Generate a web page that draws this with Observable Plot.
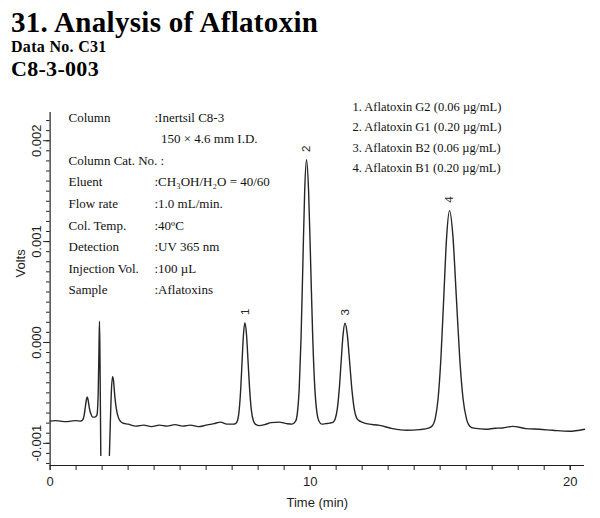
<!DOCTYPE html>
<html><head><meta charset="utf-8">
<script src="https://cdn.jsdelivr.net/npm/d3@7"></script>
<script src="https://cdn.jsdelivr.net/npm/@observablehq/plot@0.6"></script>
<style>
html,body{margin:0;padding:0;background:#fff;}
#page{position:relative;width:600px;height:518px;overflow:hidden;background:#fff;}
#head{position:relative;height:80px;font-family:"Liberation Serif","Times New Roman",serif;font-weight:bold;color:#000;}
#head div{position:absolute;left:11px;line-height:0.9;white-space:nowrap;}
#chart svg{display:block;}
</style></head>
<body><div id="page">
<div id="head">
<div id="t1" style="top:9.16px;font-size:29px;letter-spacing:0.3px"></div>
<div id="t2" style="top:40.3px;font-size:16px;letter-spacing:0.3px"></div>
<div id="t3" style="top:58.87px;font-size:22px;letter-spacing:0.3px"></div>
</div>
<div id="chart"></div>
</div>
<script>
const titleLines = ["31. Analysis of Aflatoxin", "Data No. C31", "C8-3-003"];

// chromatogram trace (time in min, signal in volts)
const times = [0.00,0.20,0.40,0.60,0.80,1.00,1.17,1.25,1.31,1.36,1.40,1.43,1.46,1.51,1.57,1.64,1.72,1.80,
  1.85,1.88,1.90,1.92,1.95,2.10,2.28,2.31,2.35,2.40,2.44,2.49,2.55,2.62,2.70,2.80,
  3.00,3.30,3.60,3.90,4.20,4.50,4.80,5.10,5.40,5.70,6.00,6.30,6.55,6.80,7.05,
  7.13,7.21,7.27,7.33,7.38,7.43,7.49,7.55,7.61,7.67,7.74,7.82,7.92,8.05,8.25,8.50,8.80,9.10,9.30,
  9.44,9.51,9.58,9.65,9.72,9.79,9.86,9.94,10.02,10.10,10.18,10.26,10.34,10.45,10.60,10.75,
  10.89,10.965,11.04,11.115,11.19,11.265,11.34,11.43,11.52,11.61,11.70,11.79,11.88,12.00,12.16,12.67,13.17,13.70,14.21,14.55,
  14.70,14.81,14.92,15.03,15.14,15.25,15.36,15.49,15.62,15.75,15.88,16.01,16.14,16.30,16.77,17.10,17.40,17.79,18.30,18.81,19.32,19.96,20.55];
const volts = [-0.00078,-0.000775,-0.00078,-0.000785,-0.00078,-0.000775,-0.00078,-0.00077,-0.00072,-0.00063,-0.00056,-0.00054,-0.00057,-0.00065,-0.00071,-0.00074,-0.00074,-0.00072,
  -0.00050,-0.00005,0.00021,-0.00020,-0.00112,null,-0.00112,-0.00085,-0.00052,-0.00034,-0.00038,-0.00054,-0.00066,-0.00074,-0.00078,-0.00080,
  -0.00081,-0.00083,-0.00082,-0.000835,-0.00082,-0.00083,-0.000815,-0.00083,-0.00082,-0.000835,-0.00082,-0.000805,-0.00079,-0.00081,-0.00081,
  -0.000805,-0.000771,-0.000674,-0.000461,-0.000200,0.000056,0.000195,0.000086,-0.000176,-0.000453,-0.000674,-0.000779,-0.000815,-0.000825,-0.000815,-0.000795,-0.00079,-0.000805,-0.00081,
  -0.000781,-0.000695,-0.000455,0.000041,0.000780,0.001504,0.001812,0.001504,0.000780,0.000041,-0.000455,-0.000695,-0.000781,-0.00081,-0.000805,-0.0008,
  -0.000789,-0.000756,-0.000666,-0.000478,-0.000199,0.000075,0.000191,0.000075,-0.000199,-0.000478,-0.000666,-0.000750,-0.000775,-0.00079,-0.000805,-0.000822,-0.000854,-0.000871,-0.000864,-0.00085,
  -0.000826,-0.000755,-0.000558,-0.000150,0.000458,0.001054,0.001307,0.001054,0.000458,-0.000150,-0.000558,-0.000755,-0.000830,-0.000850,-0.000861,-0.00085,-0.000848,-0.000832,-0.000854,-0.000861,-0.000871,-0.000881,-0.000861];

// peak labels
const peakLabels = ["1", "2", "3", "4"];
const peakTimes = [7.49, 9.86, 11.34, 15.36];
const peakVolts = [0.000195, 0.001812, 0.000191, 0.001307];

// axes
const xTicks = [0, 10, 20];
const xTickLabels = ["0", "10", "20"];
const yTicks = [-0.001, 0, 0.001, 0.002];
const yTickLabels = ["-0.001", "0.000", "0.001", "0.002"];
const xDomain = [0, 20.55];
const yDomain = [-0.00122, 0.00228];

// conditions and legend text
const infoLabels = ["Column", "", "Column Cat. No. :", "Eluent", "Flow rate", "Col. Temp.", "Detection", "Injection Vol.", "Sample"];
const infoValues = [":Inertsil C8-3", "\u2007150 \u00d7 4.6 mm I.D.", "", ":CH\u2083OH/H\u2082O = 40/60", ":1.0 mL/min.", ":40\u00baC", ":UV 365 nm", ":100 \u00b5L", ":Aflatoxins"];
const legendLines = ["1. Aflatoxin G2 (0.06 \u00b5g/mL)", "2. Aflatoxin G1 (0.20 \u00b5g/mL)", "3. Aflatoxin B2 (0.06 \u00b5g/mL)", "4. Aflatoxin B1 (0.20 \u00b5g/mL)"];

document.getElementById("t1").textContent = titleLines[0];
document.getElementById("t2").textContent = titleLines[1];
document.getElementById("t3").textContent = titleLines[2];

const trace = times.map((t, i) => ({t, v: volts[i]}));
const peaks = peakLabels.map((label, i) => ({t: peakTimes[i], v: peakVolts[i], label}));
const serif = '"Liberation Serif", "Times New Roman", serif';

const chart = Plot.plot({
  width: 600, height: 438,
  marginTop: 32, marginBottom: 53, marginLeft: 49.6, marginRight: 16,
  style: {fontFamily: '"Liberation Sans", Arial, sans-serif', fontSize: "13px", color: "#1e1e1e", background: "#fff"},
  x: {domain: xDomain},
  y: {domain: yDomain},
  marks: [
    Plot.axisY({interval: 0.0001, tickSize: 3.5, tickFormat: () => "", label: null}),
    Plot.axisY(yTicks, {tickSize: 6.5, tickRotate: -90, tickPadding: 3, tickFormat: d => yTickLabels[yTicks.indexOf(d)], label: null}),
    Plot.axisX({interval: 1, tickSize: 5, tickFormat: () => "", label: null}),
    Plot.axisX(xTicks, {tickSize: 5, tickPadding: 6, tickFormat: d => xTickLabels[xTicks.indexOf(d)], label: null}),
    Plot.ruleX([xDomain[0]], {stroke: "#1e1e1e", strokeWidth: 1.2}),
    Plot.ruleY([yDomain[0]], {stroke: "#1e1e1e", strokeWidth: 1.2}),
    Plot.text(["Volts"], {text: d => d, frameAnchor: "left", rotate: -90, dx: -29.6, dy: -11.5, fontSize: 13}),
    Plot.text(["Time (min)"], {text: d => d, frameAnchor: "bottom", lineAnchor: "middle", dy: 37, fontSize: 13}),
    Plot.line(trace, {x: "t", y: "v", stroke: "#262626", strokeWidth: 1.4, curve: "monotone-x"}),
    Plot.text(peaks, {x: "t", y: "v", text: "label", rotate: -90, dy: -11, fontSize: 11.5, fill: "#262626"}),
    Plot.text([infoLabels.join("\n")], {text: d => d, frameAnchor: "top-left", textAnchor: "start", lineAnchor: "top", dx: 18.4, dy: -6.2, lineHeight: 1.66, fontFamily: serif, fontSize: 13, fill: "#111"}),
    Plot.text([infoValues.join("\n")], {text: d => d, frameAnchor: "top-left", textAnchor: "start", lineAnchor: "top", dx: 104.4, dy: -6.2, lineHeight: 1.66, fontFamily: serif, fontSize: 13, fill: "#111"}),
    Plot.text([legendLines.join("\n")], {text: d => d, frameAnchor: "top-left", textAnchor: "start", lineAnchor: "top", dx: 302.4, dy: -16.6, lineHeight: 1.65, fontFamily: serif, fontSize: 12.5, fill: "#111"})
  ]
});
document.getElementById("chart").appendChild(chart);
</script>
</body></html>
